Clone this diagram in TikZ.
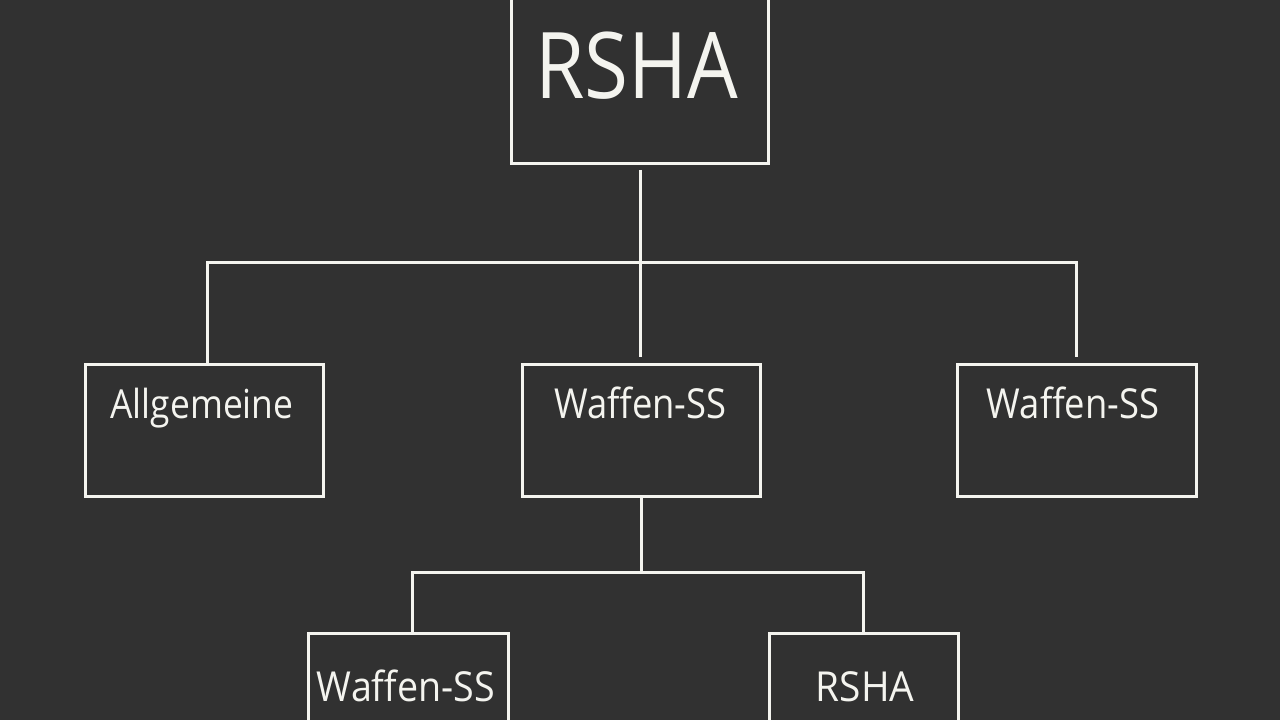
\documentclass[tikz,border=0pt]{standalone}
\usepackage{fontspec}
\setmainfont{Open Sans}
\definecolor{bg}{HTML}{313131}
\definecolor{fg}{HTML}{F4F4EF}
\tikzset{
  px/.style={x=0.75pt,y=-0.75pt},
  box/.style={draw=fg,line width=2.25pt,fill=none,inner sep=0pt,outer sep=0pt,anchor=north west},
  lab/.style={text=fg,inner sep=0pt,anchor=base},
  wire/.style={draw=fg,line width=2.25pt,line cap=butt,line join=miter},
}
\newcommand{\lbl}[2]{\scalebox{#1}[1]{#2}}
\begin{document}
\begin{tikzpicture}[px]
\useasboundingbox (0,0) rectangle (1280,720);
\fill[bg] (0,0) rectangle (1280,720);
\node[box,minimum width=193.1pt,minimum height=130.5pt] (root) at (511.5,-10) {};
\node[box,minimum width=178.9pt,minimum height=99.2pt] (a) at (85,364.5) {};
\node[box,minimum width=178.9pt,minimum height=99.2pt] (b) at (522,364.5) {};
\node[box,minimum width=178.9pt,minimum height=99.2pt] (c) at (957.5,364.5) {};
\node[box,minimum width=150.2pt,minimum height=75pt] (d) at (308,633) {};
\node[box,minimum width=142.2pt,minimum height=75pt] (e) at (769,633) {};
\node[lab,font=\fontsize{69}{69}\selectfont] (t1) at (637,99) {\lbl{0.87}{RSHA}};
\node[lab,font=\fontsize{30}{30}\selectfont] (t2) at (202,418.5) {\lbl{0.885}{Allgemeine}};
\node[lab,font=\fontsize{31}{31}\selectfont] (t3) at (640.5,418.5) {\lbl{0.88}{Waffen-SS}};
\node[lab,font=\fontsize{31}{31}\selectfont] (t4) at (1073,418.5) {\lbl{0.88}{Waffen-SS}};
\node[lab,font=\fontsize{31}{31}\selectfont] (t5) at (406,701.5) {\lbl{0.91}{Waffen-SS}};
\node[lab,font=\fontsize{31}{31}\selectfont] (t6) at (865,701.5) {\lbl{0.94}{RSHA}};
\coordinate (j1) at (640.5,262);
\coordinate (j2) at (641,572);
\coordinate (rs) at (640.5,170);
\coordinate (bt) at (640.5,357);
\coordinate (at) at (207,364);
\coordinate (ct) at (1076.5,357);
\coordinate (dt) at (412.5,633);
\coordinate (et) at (863.5,633);
\draw[wire] (rs) -- (j1) -- (bt);
\draw[wire] (at) |- (j1) -| (ct);
\draw[wire] (b.south -| j2) -- (j2);
\draw[wire] (dt) |- (j2) -| (et);
\end{tikzpicture}
\end{document}
